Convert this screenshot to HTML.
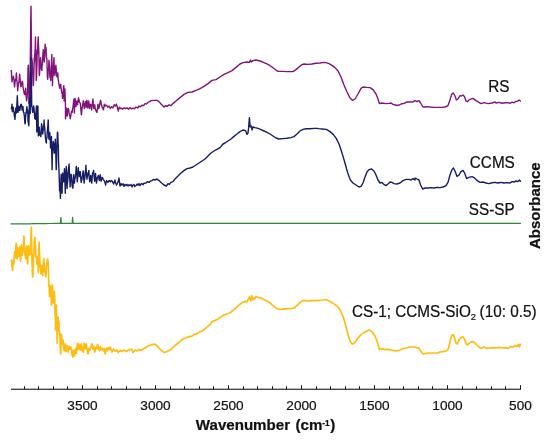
<!DOCTYPE html>
<html><head><meta charset="utf-8"><title>FTIR spectra</title>
<style>
html,body{margin:0;padding:0;background:#fff;}
body{width:550px;height:440px;overflow:hidden;}
svg{display:block;font-family:"Liberation Sans",Arial,sans-serif;fill:#111;}
.c{fill:none;stroke-linejoin:round;stroke-linecap:round;}
.t text{stroke:#111;stroke-width:0.22;}
</style></head><body>
<svg width="550" height="440" viewBox="0 0 550 440">
<rect width="550" height="440" fill="#fff"/>
<path class="c" d="M11,223.9 L30,223.9 L34,223.7 L45,223.7 L50,223.5 L56,223.3 L60.5,223.3 L60.9,217.3 L61.3,223.3 L72.2,223.3 L72.6,217.3 L73,223.3 L120,223.3 L300,223.3 L520.5,223.3" stroke="#2b8a36" stroke-width="1.25"/>
<path class="c" d="M11.36,260.18 L11.36,260.68 L11.81,262.96 L12,265.27 L12.26,267.68 L12.64,270.36 L12.71,267.76 L13.16,262.08 L13.27,260.18 L13.61,261.44 L13.91,264 L14.06,258.79 L14.51,253.31 L14.55,252.55 L14.96,251.45 L15.41,257.01 L15.44,257.64 L15.86,247.33 L16.2,243 L16.31,243.5 L16.76,252.6 L17.09,258.91 L17.21,258.41 L17.66,247.8 L17.73,248.73 L18.11,250.07 L18.56,255.74 L18.75,256.36 L19.01,256.39 L19.46,249.17 L19.64,246.82 L19.91,250.7 L20.36,260.7 L20.53,261.45 L20.81,253.41 L21.26,247.41 L21.29,244.91 L21.71,248.63 L22.16,253.23 L22.18,255.09 L22.61,251.49 L23.06,250.11 L23.07,251.27 L23.51,244.54 L23.84,236 L23.96,236.77 L24.41,246.93 L24.73,252.55 L24.86,254.27 L25.31,255.96 L25.62,258.91 L25.76,257.45 L26.21,248.92 L26.64,246.18 L26.66,246.05 L27.11,252.79 L27.56,263.45 L27.65,264 L28.01,256.21 L28.46,246.28 L28.55,245.55 L28.91,249.78 L29.36,253.92 L29.44,255.09 L29.81,252.03 L30.26,254.43 L30.45,251.27 L30.71,245.59 L31.16,230.51 L31.35,227.09 L31.61,241.04 L31.98,260.18 L32.06,262.19 L32.51,275.61 L32.75,276.98 L32.96,273.88 L33.41,257.62 L33.64,253.82 L33.86,256.73 L34.31,240.49 L34.76,238.85 L34.91,237.27 L35.21,244.45 L35.66,249.3 L35.8,255.09 L36.11,257.75 L36.56,257.24 L36.82,264 L37.01,264.21 L37.46,261.78 L37.84,256.36 L37.91,259.22 L38.35,272.91 L38.36,272.41 L38.81,253.03 L39.11,242.36 L39.26,247.46 L39.71,257.65 L40,264 L40.16,266.2 L40.61,269.78 L40.89,272.91 L41.06,273.88 L41.51,271.2 L41.91,265.27 L41.96,265.67 L42.41,271.65 L42.8,275.45 L42.86,272.18 L43.31,267.78 L43.76,259.95 L43.82,258.27 L44.21,265.83 L44.66,272.08 L44.71,270.36 L45.11,271.35 L45.56,275.03 L45.73,276.98 L46.01,274.67 L46.46,263.49 L46.62,265.27 L46.91,263.19 L47.36,259.41 L47.64,258.91 L47.81,259.41 L48.26,264.51 L48.53,272.91 L48.64,281.09 L48.71,286.04 L49.16,284.83 L49.53,296.36 L49.61,292.03 L50.06,289.92 L50.51,291.14 L50.55,286.18 L50.96,291.37 L51.41,304.19 L51.44,305.27 L51.86,297.11 L52.31,290.15 L52.45,284.91 L52.76,294.59 L53.21,302.85 L53.35,300.18 L53.66,294.88 L54.11,292.5 L54.36,291.27 L54.56,294.14 L55.01,313.55 L55.38,316.98 L55.43,325.36 L55.46,329.84 L55.91,310.04 L56.29,305 L56.36,305.5 L56.81,323.78 L57.18,343.18 L57.26,337.32 L57.71,327.47 L58.07,317.09 L58.16,319.21 L58.61,320.71 L59.06,323 L59.09,329.18 L59.51,332.01 L59.73,334.27 L59.96,338.55 L60.41,349.76 L60.62,354 L60.86,350.62 L61.31,337.51 L61.38,334.27 L61.76,338.19 L62.21,343.46 L62.27,343.18 L62.66,343.94 L63.11,340.07 L63.16,341.91 L63.56,347.12 L64.01,350.32 L64.18,350.82 L64.46,350.19 L64.91,346.83 L65.2,343.82 L65.36,344.82 L65.81,348.7 L66.09,351.45 L66.26,349.34 L66.71,347.81 L66.98,345.73 L67.16,345.73 L67.61,348.54 L68,352.09 L68.06,351 L68.51,348.45 L68.96,346.28 L69.02,346.36 L69.41,346.86 L69.86,347.94 L69.91,349.55 L70.31,347.5 L70.76,346.86 L70.8,347 L71.21,348.95 L71.66,349.93 L71.82,352.73 L72.11,355.07 L72.56,356.28 L72.84,357.18 L73.01,354.63 L73.46,351.45 L73.73,350.18 L73.91,350.95 L74.36,353.89 L74.62,355.91 L74.81,353.19 L75.26,352.32 L75.64,348.27 L75.71,350.37 L76.16,351.17 L76.53,353.36 L76.61,352.5 L77.06,346.41 L77.51,343.68 L77.55,343.18 L77.96,345.71 L78.41,348.66 L78.44,349.55 L78.86,348.37 L79.31,344.19 L79.45,344.45 L79.76,344.96 L80.21,349.68 L80.47,350.18 L80.66,348.9 L81.11,344.7 L81.36,343.82 L81.56,345.23 L82.01,346.65 L82.25,349.55 L82.46,350.15 L82.91,351.59 L83.27,352.09 L83.36,351.59 L83.81,347.19 L84.16,343.18 L84.26,343.68 L84.71,345.93 L85.16,347.56 L85.18,348.91 L85.61,347.46 L86.06,344 L86.07,343.82 L86.51,347.01 L86.96,348.33 L87.09,349.55 L87.41,350.71 L87.86,353.18 L88.11,354 L88.31,353.41 L88.76,350.32 L89,348.27 L89.21,349.16 L89.66,350.14 L89.89,350.18 L90.11,349.68 L90.56,347.7 L90.91,347 L91.01,346.67 L91.46,344.87 L91.8,343.82 L91.91,344.32 L92.36,345.8 L92.81,348.48 L92.82,348.91 L93.26,347.37 L93.71,346.36 L93.71,346.58 L94.16,349.41 L94.61,351.31 L94.73,352.09 L95.06,350.94 L95.51,348.76 L95.75,347 L95.96,347.97 L96.41,348.26 L96.64,348.91 L96.86,347.33 L97.31,345.08 L97.53,344.45 L97.76,344.96 L98.21,346.66 L98.55,348.27 L98.66,348.73 L99.11,350.26 L99.56,350.82 L99.56,350.32 L100.01,348.54 L100.45,346.36 L100.46,346.86 L100.91,348.33 L101.35,349.55 L101.36,349.06 L101.81,349.15 L102.26,348.87 L102.36,348.27 L102.71,349.47 L103.16,350.56 L103.38,350.82 L103.61,350.3 L104.06,348.99 L104.27,348.91 L104.51,350.61 L104.96,352.66 L105.16,354 L105.41,352.94 L105.86,350.61 L106.18,348.27 L106.31,348.48 L106.76,349.61 L107.2,350.82 L107.21,350.32 L107.66,349.5 L108.09,347.64 L108.11,347.5 L108.56,348.33 L108.98,349.55 L109.01,348.98 L109.46,348.93 L109.91,347.66 L110,347 L110.36,347.56 L110.81,349.22 L111,349.4 L111.26,350.19 L111.71,351.28 L112,352 L112.16,351.5 L112.61,350.9 L113.06,349.51 L113.51,349.5 L113.6,349 L113.96,350.15 L114.41,350.36 L114.86,350.5 L115,351 L115.31,350.5 L115.76,350.52 L116.21,350.97 L116.66,350.53 L117,350 L117.11,350.5 L117.56,351.2 L118,352.6 L118.01,352.1 L118.46,351.88 L118.91,351.78 L119.36,351.1 L119.81,351.1 L120,350.6 L120.26,350.44 L120.71,351.17 L121.16,350.99 L121.61,351.22 L122,351.4 L122.06,350.9 L122.51,350.9 L122.96,350.69 L123.41,350.61 L123.86,350.5 L124,350 L124.31,350.5 L124.76,350.62 L125.21,350.76 L125.66,351.1 L126,351.6 L126.11,351.42 L126.56,351.13 L127.01,351.25 L127.46,350.71 L127.91,350.63 L128,350.6 L128.36,350.1 L128.81,350.1 L129.26,349.9 L129.71,349.58 L130,349.4 L130.16,349.4 L130.61,349.42 L131.06,349.5 L131.51,349.5 L131.6,349 L131.96,349.79 L132.41,350.97 L132.86,352.1 L133,352.6 L133.31,352.1 L133.76,351.64 L134.21,351.12 L134.66,350.55 L135,350 L135.11,350.04 L135.56,350.3 L136.01,350.51 L136.46,350.73 L136.91,350.97 L137,351 L137.36,350.5 L137.81,350.35 L138.26,349.99 L138.71,349.9 L139,349.4 L139.16,349.47 L139.61,349.65 L141,350.2 L143,349 L145,348 L147,346.6 L149,345.6 L151,345 L153,344.4 L155,344.2 L157,345.6 L159,348 L161,350 L163,351.6 L164.4,352.6 L167,351.4 L169,350.4 L171,349.4 L173,347.4 L175,345.6 L177,344 L179,342.4 L181,340.6 L183,339 L185,338 L187,337.4 L189,336.6 L191,336.4 L193,335.4 L194,334.4 L196,334.2 L198,333 L200,332 L202,331 L204,329.8 L206,328 L208,326 L210,324.6 L212,321.6 L215,320.6 L218,319 L221,317 L224,315 L227,314 L230,313 L233,310.4 L236,308 L239,305 L242,302.6 L245,301.4 L247,302 L248.4,299 L249.6,297 L250.6,301 L251.6,295.6 L252.6,300 L253.6,298 L254.6,299 L256,296.4 L258,297.4 L261,298 L264,299.4 L267,301 L270,303 L273,305.6 L276,308 L279,309.4 L282,309.2 L285,308.8 L288,308.6 L291,308.6 L294,308 L297,305.6 L300,302.4 L303,300.6 L306,300.6 L309,301 L311,300.6 L315,300.6 L319,300.4 L323,300 L326,299.6 L329,301 L332,302.6 L335.2,304.6 L338.4,307.4 L340.6,311 L342.8,316 L344.8,322 L346.6,329 L348.4,336 L350.2,341.4 L352,344 L354,343.6 L356,341 L358,338 L361,334.6 L364,332.6 L367,331 L369,330 L371,331 L373,333 L375,336 L377,341 L378.4,346 L379.6,349.4 L382,348.6 L385,349.6 L388,349.4 L391,350 L394,350.6 L397,351 L400,350 L403,348.6 L406,348 L409,347 L412,347 L415,347 L417,347.6 L419,348.4 L421,351.6 L423,354 L426,353.4 L429,353 L432,353 L435,353 L438,353 L440,352 L443,351.6 L446,351 L448,349.6 L449.4,345 L450.6,339 L452,335 L453.4,334.6 L454.6,338 L456,343 L457.4,344 L459,340 L460.6,338 L462.6,336.6 L464,338 L465.4,341.6 L467,345 L469,343.6 L471,342 L473,341.6 L475,343 L477,345 L479,347 L481,348.4 L484,347 L487,348.4 L490,348 L493,347.6 L496,348 L499,347.4 L502,348 L505,347.6 L508,348.4 L511,346.4 L513,347.2 L515,345.6 L517,346.4 L518.6,344.4 L519.4,347 L520.4,344.4" stroke="#fdbd12" stroke-width="1.7"/>
<path class="c" d="M11.36,70.36 L11.36,70.86 L11.81,78.75 L12,81.82 L12.26,79.68 L12.71,78.88 L13.16,76.91 L13.27,76.09 L13.61,77.22 L14.06,80.82 L14.51,86.41 L14.55,86.91 L14.96,82.81 L15.41,79.47 L15.44,80.55 L15.86,79.79 L16.31,73.88 L16.45,72.91 L16.76,79.15 L17.21,83.36 L17.66,90.23 L17.73,90.73 L18.11,85.64 L18.56,84.76 L18.75,82.45 L19.01,82.14 L19.46,75.91 L19.64,74.18 L19.91,77.51 L20.36,81.84 L20.81,84.78 L20.91,86.91 L21.26,86 L21.71,83.54 L22.16,81.68 L22.18,81.18 L22.61,82.23 L23.06,87.33 L23.45,89.45 L23.51,89.66 L23.96,92.11 L24.41,94.05 L24.73,94.55 L24.86,94.23 L25.31,91.61 L25.62,88.18 L25.76,89.63 L26.21,97.27 L26.64,100.91 L26.66,100.34 L27.11,97.48 L27.56,91.48 L27.65,88.18 L28.01,68.84 L28.29,65.27 L28.46,69.57 L28.91,97.05 L28.93,103.45 L29.36,102.95 L29.81,92.43 L29.82,93.27 L30.26,62.66 L30.71,24.54 L31,6.1 L31.16,20.58 L31.6,60 L31.61,58.21 L32.06,59.77 L32.36,62.73 L32.51,68.46 L32.96,79.15 L33.25,85.64 L33.41,85.14 L33.86,72.47 L34.27,57.64 L34.31,62.85 L34.76,54.27 L35.21,48.53 L35.5,36.9 L35.66,50.23 L36.11,68.28 L36.2,80.5 L36.56,75.78 L37.01,63.87 L37.2,50 L37.46,53.93 L37.91,42.74 L38.3,36.9 L38.36,42.72 L38.81,51.48 L39.26,73.63 L39.4,75.5 L39.71,71.55 L40.16,62.19 L40.6,57.6 L40.61,58.1 L41.06,65.33 L41.51,69.38 L41.9,70.4 L41.96,67.1 L42.41,64.1 L42.86,55.09 L43.2,50.3 L43.31,49.7 L43.76,55.74 L44.2,62 L44.21,61.5 L44.66,56.38 L45.1,44.3 L45.11,44.8 L45.56,47.87 L46,50 L46.01,47.52 L46.46,57.11 L46.91,59.65 L47,62.73 L47.36,76.4 L47.64,79.27 L47.81,78.77 L48.26,70 L48.71,67.47 L48.91,60.18 L49.16,62.83 L49.61,68.31 L49.8,75.45 L50.06,77.66 L50.51,74.7 L50.82,80.55 L50.96,74.05 L51.41,63.92 L51.8,54.5 L51.86,58.43 L52.31,74.66 L52.47,85.64 L52.76,75.53 L53.21,75.67 L53.36,69.09 L53.66,61.8 L54,57.64 L54.11,63.78 L54.56,72.25 L54.89,75.45 L55.01,73.62 L55.46,69.56 L55.91,65.27 L55.91,65.37 L56.36,71.07 L56.81,76.15 L56.93,76.73 L57.26,75.59 L57.71,73.93 L57.82,72.91 L58.16,79.07 L58.61,81.98 L58.71,83.09 L59.06,84.48 L59.51,87.68 L59.73,88.18 L59.96,86.27 L60.41,84.84 L60.75,84.36 L60.86,86.95 L61.31,89.3 L61.64,92 L61.76,93.13 L62.21,93.28 L62.53,98.36 L62.66,96.38 L63.11,93.19 L63.56,86.14 L63.8,85.64 L64.01,94.91 L64.18,100.91 L64.46,98.41 L64.82,92 L64.91,88.97 L65.36,103.16 L65.45,103.45 L65.5,118.73 L65.81,113.58 L66.2,107.91 L66.26,110.32 L66.71,110.73 L67.09,115.55 L67.16,116.15 L67.61,111.5 L67.73,108.55 L68.06,108.41 L68.51,109.05 L68.75,110.45 L68.96,112.15 L69.41,115.11 L69.86,115.93 L70.27,118.73 L70.31,118.23 L70.76,116.15 L71.21,112.96 L71.55,111.09 L71.66,111.59 L72.11,111.04 L72.18,112.36 L72.56,108.88 L73.01,107.16 L73.46,102.21 L73.91,99.52 L74.09,99 L74.35,113 L74.36,112.5 L74.81,101.29 L75.11,98.36 L75.26,99.99 L75.71,104.82 L76,106.64 L76.16,104.9 L76.61,101.68 L76.89,100.91 L77.06,102.9 L77.51,103.28 L77.65,104.73 L77.96,101.42 L78.41,98.65 L78.55,97.73 L78.86,99.79 L79.31,100.85 L79.44,102.18 L79.76,102.33 L80.21,103.3 L80.45,104.09 L80.66,107.47 L81.11,111.87 L81.35,114.91 L81.56,114.21 L82.01,108.56 L82.36,106.64 L82.46,105.48 L82.91,103.57 L83.25,100.91 L83.36,102.95 L83.81,104.95 L84.26,107.53 L84.27,108.55 L84.71,104.45 L85.16,102.54 L85.29,101.55 L85.61,102.63 L86.06,107.47 L86.18,107.27 L86.51,104.73 L86.82,100.27 L86.96,100.77 L87.41,103.99 L87.84,107.91 L87.86,108.05 L88.31,104.66 L88.73,100.91 L88.76,102.22 L89.21,104.5 L89.62,108.55 L89.66,107.1 L90.11,105.69 L90.56,105.45 L90.64,104.09 L91.01,105.4 L91.46,108.21 L91.65,109.82 L91.91,107.46 L92.36,103.66 L92.81,99.78 L92.93,99 L93.26,103.63 L93.71,106.58 L93.82,108.55 L94.16,105.96 L94.61,106.17 L94.71,104.73 L95.06,107.46 L95.51,109.98 L95.73,109.82 L95.96,110.13 L96.41,111.86 L96.86,111.86 L97,112.36 L97.31,109.13 L97.76,106.83 L98.02,104.09 L98.21,105.91 L98.66,107.72 L98.91,108.55 L99.11,107.59 L99.56,104.87 L99.8,104.09 L100.01,102.81 L100.46,100.77 L100.56,100.27 L100.91,101.44 L101.36,105.01 L101.45,105.36 L101.81,105.73 L102.26,107.48 L102.35,107.27 L102.71,107.6 L103.16,109.32 L103.36,109.82 L103.61,108.56 L104.06,106.19 L104.38,104.09 L104.51,104.65 L104.96,105.61 L105.27,106 L105.41,105.5 L105.86,105.38 L106.31,105.64 L106.55,105.36 L106.76,105.86 L107.21,106.31 L107.66,106.77 L107.82,107.27 L108.11,106.77 L108.56,106.5 L109.01,106.5 L109.09,106 L109.46,106.78 L109.91,107.59 L110.36,108.55 L110.36,108.05 L110.81,108 L111.26,107.2 L111.64,106.64 L111.71,107.14 L112.16,107.14 L112.61,107.41 L112.91,107.91 L113.06,107.41 L113.51,106.53 L113.96,105.23 L114.18,104.73 L114.41,105.1 L114.86,105.61 L115.31,105.5 L115.45,106 L115.76,105.51 L116.21,104.59 L116.35,104.09 L116.66,105.12 L117.11,106.61 L117.36,107.27 L117.56,107.97 L118.01,109.99 L118.25,111.09 L118.46,110.27 L118.91,108.62 L119.27,107.27 L119.36,107.77 L119.81,107.81 L120.26,108.05 L120.55,108.55 L120.71,108.31 L121,108 L121.16,108.09 L121.61,108.5 L122.06,108.7 L122.4,109.2 L122.51,108.7 L122.96,108.65 L123.41,108.2 L123.86,108.1 L124,107.6 L124.31,108.1 L124.76,108.17 L125.6,108.8 L127,107.8 L128.4,109.2 L130,107.6 L131.6,109 L133,108 L134.4,108.8 L136,107 L137.6,108 L139,106 L140.4,106.8 L142,105.2 L143.6,105.6 L145,103.6 L146.4,104 L148,102.4 L149.6,101.6 L151,100.6 L154,100.4 L157,100.4 L159,101.6 L161,104 L164,107 L165.6,105.6 L167,106.4 L169,104.8 L171,105.6 L173,103.6 L176,101 L180,97.6 L184,94.4 L188,92.4 L192,92 L196,90.4 L200,88.6 L204,86.4 L208,83.6 L212,80.4 L216,79.6 L220,77 L224,74.4 L228,72.6 L232,70.6 L232.05,70.6 L236,67.4 L240,64 L243,62.6 L247,62 L249.4,62.4 L250.4,60 L251.4,62 L253,60.6 L256,60 L260,61 L264,62.6 L268,64.4 L272,67 L276,70 L278,71.4 L282,71.4 L288,71.6 L293,71.6 L296,69.6 L299,67 L302,64.6 L304,64 L308,64.4 L312,64 L316,63.2 L320,63 L324,62.4 L326,62.6 L329,63.6 L332,65.4 L335,67.6 L338,71 L341,77 L344,85 L347,92 L350,98 L352.6,100.4 L355,99 L358,94 L361,88.4 L363,87 L367,87.4 L370,87.6 L373,89.6 L376,94 L378,99 L379.4,103.6 L382,103 L386,103.6 L389,103.4 L391,103 L393,104.4 L396,105.2 L399,105.2 L401,104 L404,103.4 L407,102 L410,102 L413,102 L415,100.6 L417,101.6 L419,100.6 L420.6,103 L423,107 L426,107 L427,106.6 L430,107 L434,107.4 L438,107.4 L442,107.4 L445,107 L448,105.6 L450,100 L451.6,94.4 L453.2,93 L455,96 L456.4,100 L458,99 L460,95.6 L461.6,96 L463,95 L464.4,96.4 L466,101 L467.6,101.6 L469.6,99.4 L473,98.4 L476,100.6 L479,102.4 L481,103.6 L484,102.6 L488,103.6 L492,103 L495,102 L496,103 L499,102.4 L502,103.2 L505,102.8 L508,102.6 L510,103.4 L512,102.2 L514,102.8 L516,101.4 L518,101 L519,100 L520.4,101" stroke="#82137a" stroke-width="1.4"/>
<path class="c" d="M11.36,108.55 L11.36,108.8 L11.81,105.9 L12,104.09 L12.26,110.25 L12.38,111.73 L12.71,111.47 L13.16,108.58 L13.27,107.27 L13.61,111.27 L14.06,112 L14.16,114.27 L14.51,116.43 L14.93,119.36 L14.96,118.86 L15.41,113.65 L15.82,107.91 L15.86,109.61 L16.31,110.54 L16.45,113 L16.76,106.98 L17.21,97.77 L17.35,95.82 L17.66,104.11 L17.98,112.36 L18.11,111.63 L18.56,106.24 L18.75,106.64 L19.01,106.7 L19.46,109.05 L19.64,110.45 L19.91,110.1 L20.36,106.94 L20.53,105.36 L20.81,104.59 L21.26,104.82 L21.29,104.09 L21.71,105.97 L22.16,110.16 L22.18,109.82 L22.61,107.71 L23.06,106.57 L23.07,108.55 L23.51,112.51 L23.96,112.54 L24.09,114.27 L24.41,116.53 L24.86,122.72 L25.11,123.82 L25.31,122.31 L25.76,114.85 L26,112.36 L26.21,113.39 L26.66,108.42 L26.89,106.64 L27.11,109.8 L27.56,109.79 L27.91,114.91 L28.01,121.43 L28.46,123.13 L28.8,125.73 L28.91,124.55 L29.36,103.83 L29.44,97.09 L29.81,103.53 L30.2,113.64 L30.26,108.32 L30.71,75.24 L31,57.6 L31.16,65.71 L31.61,94.97 L31.73,106.64 L32.06,107.01 L32.51,111.37 L32.75,112.36 L32.96,108.73 L33.41,108.41 L33.64,106 L33.86,107.39 L34.31,112.05 L34.53,115.55 L34.76,118.32 L35.21,117.97 L35.55,119.36 L35.66,115.55 L36.11,110.73 L36.44,106 L36.56,116.64 L36.82,132.09 L37.01,121.9 L37.46,121.43 L37.84,106 L37.91,106.5 L38.35,135.91 L38.36,135.41 L38.81,135.41 L39.26,127.18 L39.64,132.73 L39.71,134.51 L40.16,133.57 L40.61,136.05 L40.91,136.55 L41.06,132.86 L41.51,124.32 L41.55,123.82 L41.96,125.64 L42.41,133.32 L42.82,134 L42.86,131.82 L43.31,130.06 L43.76,126.1 L44.09,120 L44.21,124.1 L44.66,127.07 L45.11,132.96 L45.36,136.55 L45.56,137.98 L46.01,142.41 L46.38,142.91 L46.46,138.51 L46.91,138.22 L47.27,131.45 L47.36,131.31 L47.81,126.36 L48.16,120 L48.26,120.5 L48.71,135.93 L48.93,139.09 L49.16,135.1 L49.61,132.5 L49.82,132.73 L50.06,138.3 L50.45,144.18 L50.51,148.04 L50.96,138.72 L51.41,140.64 L51.47,136.55 L51.86,157.1 L52.11,169.64 L52.31,156.83 L52.36,155.64 L52.76,149.49 L53.21,141.47 L53.25,145.45 L53.66,142.72 L54.11,147.06 L54.27,153.09 L54.56,151.71 L55.01,149.76 L55.29,139.09 L55.46,142.79 L55.91,157.53 L56.18,169.64 L56.36,169.14 L56.81,151.56 L57.26,136.17 L57.45,132.09 L57.71,132.59 L58.16,144.81 L58.35,145.45 L58.61,162.2 L59.06,172.13 L59.11,174.98 L59.16,175.45 L59.51,187.48 L59.55,190.73 L59.96,184.68 L60.41,197.86 L60.44,198.36 L60.86,180.72 L61.2,174.18 L61.31,176.48 L61.76,189.29 L62.09,193.27 L62.21,186.07 L62.66,177.26 L62.73,172.91 L63.11,180.35 L63.56,181.5 L63.75,181.82 L64.01,181.44 L64.46,168.62 L64.64,170.36 L64.91,179.5 L65.27,193.27 L65.36,188.7 L65.81,181.3 L66.26,167.05 L66.29,166.55 L66.71,174.58 L67.16,188.53 L67.18,184.36 L67.61,182.06 L68.06,177.4 L68.07,172.91 L68.51,168.69 L68.96,165.04 L69.09,164 L69.41,172.37 L69.86,181.19 L70.11,186.91 L70.31,182.73 L70.76,177.01 L71,174.18 L71.21,174.68 L71.66,179.14 L71.89,181.82 L72.11,185.85 L72.56,187.68 L72.91,188.18 L73.01,186.82 L73.46,176.7 L73.55,174.82 L73.91,177.52 L74.36,180.7 L74.44,183.09 L74.81,178.91 L75.26,177.79 L75.45,174.18 L75.71,174.5 L76.16,167.29 L76.35,166.55 L76.61,172.28 L77.06,179.02 L77.36,181.82 L77.51,180.13 L77.96,172.94 L78.25,167.82 L78.41,170.65 L78.86,171.52 L79.27,175.45 L79.31,176.59 L79.76,172.62 L80.21,171.87 L80.29,171.64 L80.66,176.91 L81.11,181.95 L81.18,182.45 L81.56,179.27 L82.01,179.87 L82.07,177.36 L82.46,175.66 L82.91,172.54 L83.09,171 L83.36,171.68 L83.81,179.78 L84.11,183.09 L84.26,180.87 L84.71,178.58 L85,175.45 L85.16,173.48 L85.61,169.65 L85.89,165.27 L86.06,168.19 L86.51,174.97 L86.91,179.27 L86.96,178.17 L87.41,176.73 L87.86,174.3 L87.93,172.91 L88.31,173.14 L88.76,170.86 L88.82,170.36 L89.21,176.76 L89.66,181.32 L89.71,181.82 L90.11,180.08 L90.56,178.97 L90.73,175.45 L91.01,179.9 L91.46,181.01 L91.75,183.09 L91.91,181.38 L92.36,174.77 L92.64,172.91 L92.81,173.58 L93.26,172.64 L93.53,170.36 L93.71,172.05 L94.16,177.53 L94.55,180.55 L94.61,181.18 L95.06,178.13 L95.51,173.37 L95.56,174.18 L95.96,178.99 L96.41,182.59 L96.45,183.09 L96.86,180.86 L97.31,177.41 L97.35,177.36 L97.76,176.9 L98.21,176.52 L98.36,175.45 L98.66,177.3 L99.11,179.77 L99.38,180.55 L99.56,178.31 L100.01,175.71 L100.27,174.82 L100.46,176.04 L100.91,179.74 L101.16,181.18 L101.36,180.03 L101.81,179.07 L102.18,177.36 L102.26,177.75 L102.71,177.86 L103.16,179.27 L103.45,179.91 L103.61,179.91 L104.06,180.44 L104.51,181.18 L104.73,181.82 L104.96,182.43 L105.41,183.98 L105.62,185 L105.86,183.69 L106.31,181.59 L106.64,180.55 L106.76,181.05 L107.21,181.3 L107.66,181.95 L107.91,182.45 L108.11,181.95 L108.56,181.25 L109.01,181.03 L109.18,180.55 L109.46,180.9 L109.91,181.23 L110.36,181.32 L110.45,181.82 L110.81,180.9 L111,180.4 L111.26,180.9 L111.71,181 L112,181 L112.16,181.23 L112.61,181.88 L113.06,183.05 L113.51,183.27 L113.6,184 L113.96,183.03 L114.41,181.39 L114.86,180.55 L115,180 L115.31,181.92 L115.76,183.27 L116.21,184.21 L116.4,185 L116.66,184.5 L117.11,183.9 L117.56,182.62 L118,182 L118.01,181.63 L118.46,180.25 L118.91,178.5 L119,178 L119.36,181.29 L119.81,184.89 L120,186 L120.26,185.47 L120.71,184.17 L121,183.6 L121.16,184.1 L121.61,184.29 L122,185.2 L122.06,184.88 L122.51,184.42 L122.96,184.1 L123,183.6 L123.41,184.6 L123.86,185.9 L124,186.4 L124.31,185.87 L124.76,184.85 L125,184.4 L125.21,184.9 L125.66,185.12 L126,185.6 L126.11,185.41 L126.56,185.04 L127,184.4 L127.01,184.9 L127.46,185.21 L127.91,185.5 L128,186 L128.36,185.5 L128.81,185 L129,184.8 L129.26,185.09 L129.71,185.37 L130,185.6 L130.16,185.4 L130.61,184.9 L131,184.4 L131.06,184.9 L131.51,185.73 L131.96,186.5 L132,187 L132.41,186.18 L132.86,185.24 L133,185 L133.31,184.9 L133.76,184.9 L134,184.4 L134.21,185.06 L134.66,186.52 L136,185.6 L137,184 L138,185.2 L139,183.6 L140,185.6 L141,184 L142,183.6 L143,184.8 L144,183.2 L146,183 L147.6,181.6 L149,182.4 L150.6,181 L152,180.6 L153.6,179.4 L155,180 L157,179 L159,180.6 L161.6,183 L164,185 L166.4,186 L168,183.6 L169.4,184.4 L171,182.4 L173,181.6 L175,179 L178,176 L181,173 L184,170.6 L187,168.6 L190,168 L193,167 L196,165 L199,163 L202,161 L205,159 L208,156 L211,153 L214,151 L217,149.4 L220,147.6 L223,144 L225,143 L228,141 L231,139 L234,136.4 L237,134 L240,131.6 L243,130 L245.6,130.6 L247,134.4 L248,133 L248.6,128 L249.4,117.6 L250.2,127 L251.4,126 L252,130 L253,127 L255,127.6 L258,128.4 L261,129.6 L264,131 L267,132.4 L270,134 L273,136 L276,138 L279,139 L283,138.6 L287,138.2 L291,137.6 L294,136.6 L297,134 L300,131 L303,129.4 L306,128.8 L310,128.8 L314,128.4 L318,128.4 L318.05,128.6 L322,129 L326.4,129.4 L330,131.6 L333.2,134.4 L336.2,138.4 L339,144 L341.6,151.6 L344.4,161 L346.6,169 L348.6,175.6 L350.4,180 L353,183 L356,185 L359,187 L361,186.4 L363,183 L365,177 L367,172 L369,169.6 L371.6,169 L374,171 L376,175 L378,180 L380,183 L382,182.4 L384,184.4 L386,185.6 L388,184 L390,182 L392,182.4 L394,183.6 L397,184 L400,183 L403,180.6 L406,179.4 L409,179.4 L411,180 L413,178.6 L415,180 L415.05,178 L417,179 L419,180 L420.6,185 L422.6,189 L425,188 L428,188 L431,187.6 L434,188 L437,187.4 L440,187.6 L443,187 L446,185.6 L448,182.4 L450,175 L452,169.6 L453.4,168 L455,171 L457,176.4 L459,175 L461,171.6 L463,170.4 L464.6,173 L466.6,178.6 L469,177.4 L472,176.6 L474,177.6 L477,180.4 L480,182.4 L483,182 L486,183 L489,183.6 L492,182.8 L495,182.4 L498,183 L501,182.4 L504,183 L507,182.6 L510,183 L512,181.6 L514,182 L516,181 L518,181.6 L519.4,180 L520.4,181.2" stroke="#161d63" stroke-width="1.4"/>
<rect x="11" y="388.7" width="510" height="1.1" fill="#1a1a1a"/>
<rect x="24" y="386.20" width="1" height="3" fill="#1a1a1a"/>
<rect x="38" y="386.20" width="1" height="3" fill="#1a1a1a"/>
<rect x="53" y="386.20" width="1" height="3" fill="#1a1a1a"/>
<rect x="67" y="386.20" width="1" height="3" fill="#1a1a1a"/>
<rect x="82" y="385.20" width="1" height="4" fill="#1a1a1a"/>
<rect x="97" y="386.20" width="1" height="3" fill="#1a1a1a"/>
<rect x="111" y="386.20" width="1" height="3" fill="#1a1a1a"/>
<rect x="126" y="386.20" width="1" height="3" fill="#1a1a1a"/>
<rect x="140" y="386.20" width="1" height="3" fill="#1a1a1a"/>
<rect x="155" y="385.20" width="1" height="4" fill="#1a1a1a"/>
<rect x="170" y="386.20" width="1" height="3" fill="#1a1a1a"/>
<rect x="184" y="386.20" width="1" height="3" fill="#1a1a1a"/>
<rect x="199" y="386.20" width="1" height="3" fill="#1a1a1a"/>
<rect x="213" y="386.20" width="1" height="3" fill="#1a1a1a"/>
<rect x="228" y="385.20" width="1" height="4" fill="#1a1a1a"/>
<rect x="243" y="386.20" width="1" height="3" fill="#1a1a1a"/>
<rect x="257" y="386.20" width="1" height="3" fill="#1a1a1a"/>
<rect x="272" y="386.20" width="1" height="3" fill="#1a1a1a"/>
<rect x="286" y="386.20" width="1" height="3" fill="#1a1a1a"/>
<rect x="301" y="385.20" width="1" height="4" fill="#1a1a1a"/>
<rect x="316" y="386.20" width="1" height="3" fill="#1a1a1a"/>
<rect x="330" y="386.20" width="1" height="3" fill="#1a1a1a"/>
<rect x="345" y="386.20" width="1" height="3" fill="#1a1a1a"/>
<rect x="359" y="386.20" width="1" height="3" fill="#1a1a1a"/>
<rect x="374" y="385.20" width="1" height="4" fill="#1a1a1a"/>
<rect x="389" y="386.20" width="1" height="3" fill="#1a1a1a"/>
<rect x="403" y="386.20" width="1" height="3" fill="#1a1a1a"/>
<rect x="418" y="386.20" width="1" height="3" fill="#1a1a1a"/>
<rect x="432" y="386.20" width="1" height="3" fill="#1a1a1a"/>
<rect x="447" y="385.20" width="1" height="4" fill="#1a1a1a"/>
<rect x="462" y="386.20" width="1" height="3" fill="#1a1a1a"/>
<rect x="476" y="386.20" width="1" height="3" fill="#1a1a1a"/>
<rect x="491" y="386.20" width="1" height="3" fill="#1a1a1a"/>
<rect x="505" y="386.20" width="1" height="3" fill="#1a1a1a"/>
<rect x="520" y="385.20" width="1" height="4" fill="#1a1a1a"/>

<g class="t">
<text x="82.50" y="410.3" text-anchor="middle" font-size="13.65">3500</text>
<text x="155.50" y="410.3" text-anchor="middle" font-size="13.65">3000</text>
<text x="228.50" y="410.3" text-anchor="middle" font-size="13.65">2500</text>
<text x="301.50" y="410.3" text-anchor="middle" font-size="13.65">2000</text>
<text x="374.50" y="410.3" text-anchor="middle" font-size="13.65">1500</text>
<text x="447.50" y="410.3" text-anchor="middle" font-size="13.65">1000</text>
<text x="520.50" y="410.3" text-anchor="middle" font-size="13.65">500</text>

<text transform="translate(488.2,91.6) scale(1,1.06)" font-size="15.3">RS</text>
<text transform="translate(469.8,167.5) scale(1,1.06)" font-size="15.3">CCMS</text>
<text transform="translate(468.8,214.5) scale(1,1.06)" font-size="15.3">SS-SP</text>
<text transform="translate(351.9,316.7) scale(1,1.06)" font-size="15.3">CS-1; CCMS-SiO<tspan font-size="9.3" dy="3.2">2</tspan><tspan dy="-3.2" dx="3.6">(10: 0.5)</tspan></text>
<text x="195.8" y="429.7" font-size="15.1" font-weight="bold">Wavenumber <tspan dx="1.3">(cm</tspan><tspan font-size="8.2" dy="-3.7">-1</tspan><tspan dy="3.7" dx="0.6">)</tspan></text>
<text transform="translate(540,249.1) rotate(-90)" font-size="15" font-weight="bold">Absorbance</text>
</g>
</svg>
</body></html>
